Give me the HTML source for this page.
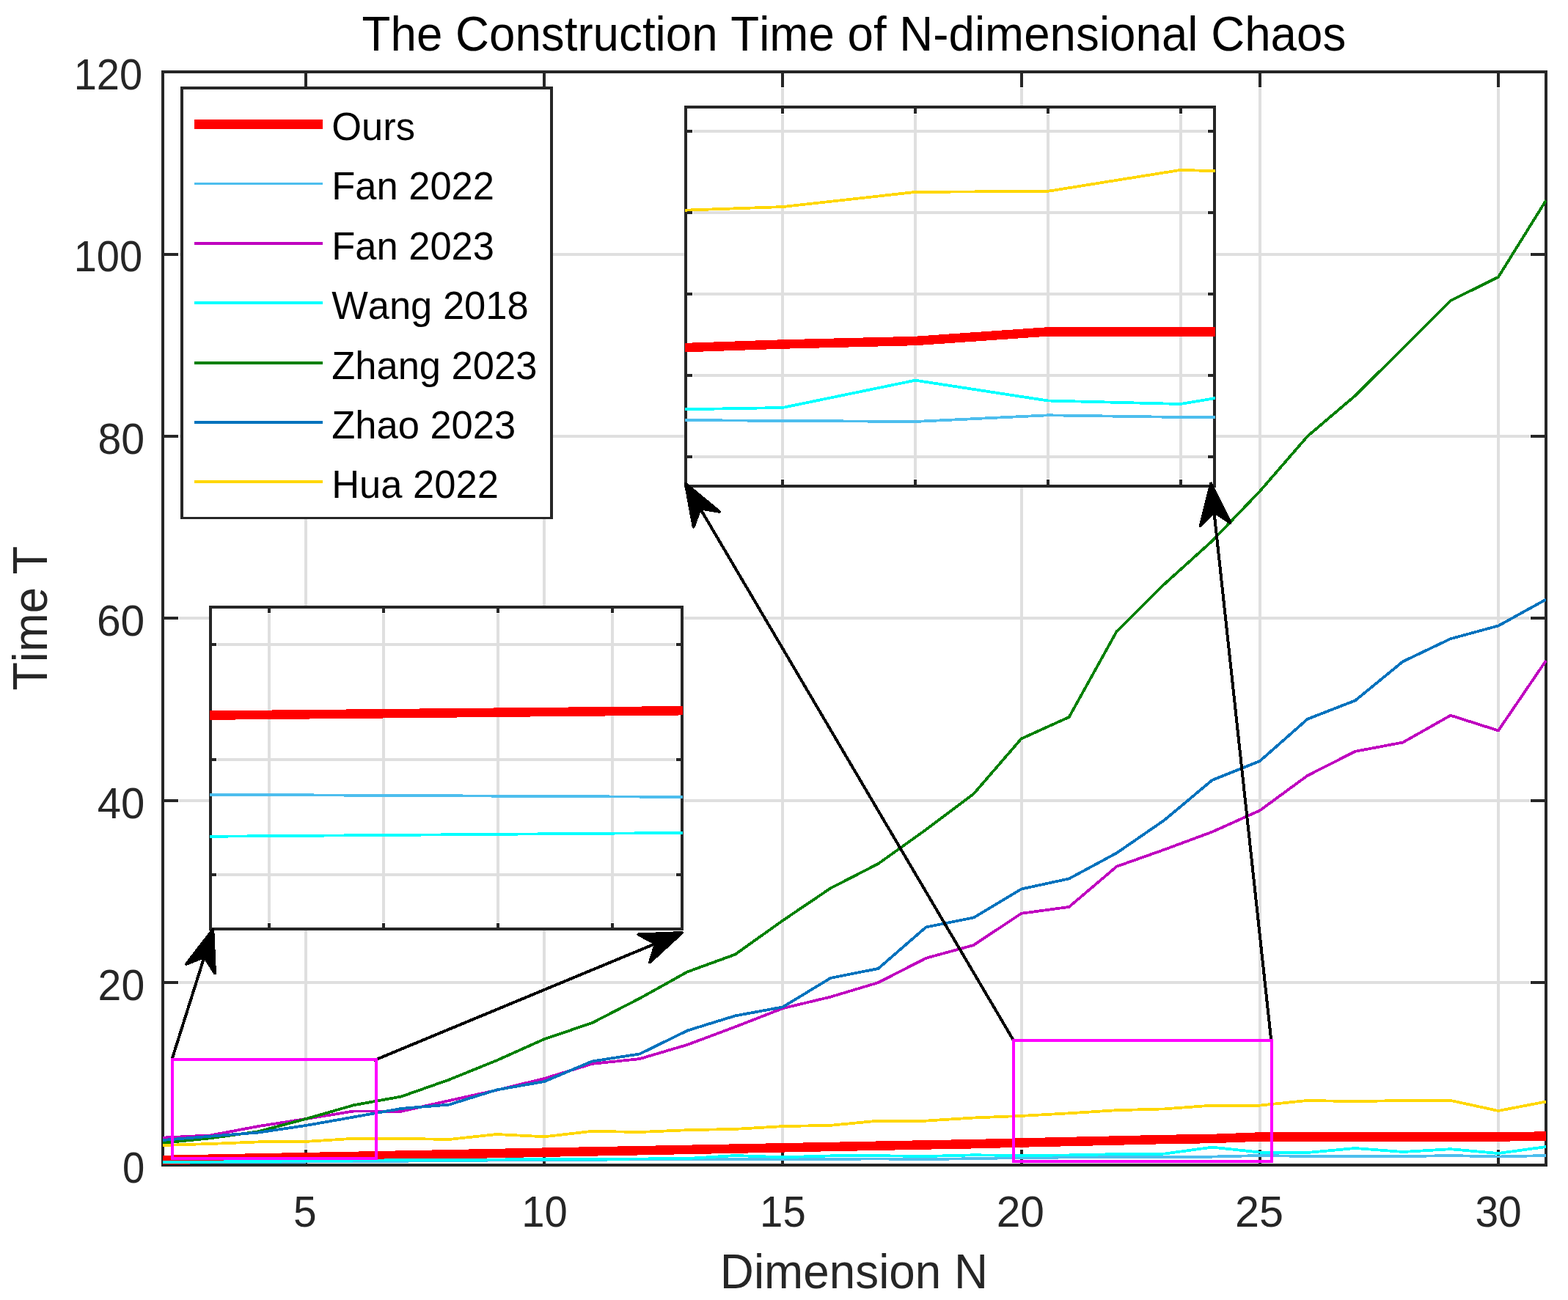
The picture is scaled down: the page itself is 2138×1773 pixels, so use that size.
<!DOCTYPE html>
<html lang="en"><head><meta charset="utf-8"><title>The Construction Time of N-dimensional Chaos</title>
<style>html,body{margin:0;padding:0;background:#fff;}body{width:2138px;height:1773px;overflow:hidden;}svg{display:block;}text{font-family:"Liberation Sans",Arial,Helvetica,sans-serif;font-kerning:none;white-space:pre;}</style>
</head><body>
<svg xmlns="http://www.w3.org/2000/svg" width="2138" height="1773" viewBox="0 0 2138 1773">
<rect x="0" y="0" width="2138" height="1773" fill="#ffffff"/>
<g id="main-axes">
<g id="main-grid" shape-rendering="crispEdges">
<line x1="417.0" y1="120.0" x2="417.0" y2="1567.0" stroke="#dfdfdf" stroke-width="4" />
<line x1="742.0" y1="120.0" x2="742.0" y2="1567.0" stroke="#dfdfdf" stroke-width="4" />
<line x1="1067.0" y1="120.0" x2="1067.0" y2="1567.0" stroke="#dfdfdf" stroke-width="4" />
<line x1="1393.0" y1="120.0" x2="1393.0" y2="1567.0" stroke="#dfdfdf" stroke-width="4" />
<line x1="1718.0" y1="120.0" x2="1718.0" y2="1567.0" stroke="#dfdfdf" stroke-width="4" />
<line x1="2043.0" y1="120.0" x2="2043.0" y2="1567.0" stroke="#dfdfdf" stroke-width="4" />
<line x1="244.0" y1="347.0" x2="2086.0" y2="347.0" stroke="#dfdfdf" stroke-width="4" />
<line x1="244.0" y1="595.0" x2="2086.0" y2="595.0" stroke="#dfdfdf" stroke-width="4" />
<line x1="244.0" y1="843.0" x2="2086.0" y2="843.0" stroke="#dfdfdf" stroke-width="4" />
<line x1="244.0" y1="1092.0" x2="2086.0" y2="1092.0" stroke="#dfdfdf" stroke-width="4" />
<line x1="244.0" y1="1340.0" x2="2086.0" y2="1340.0" stroke="#dfdfdf" stroke-width="4" />
</g>
<g id="main-box" shape-rendering="crispEdges">
<line x1="417.0" y1="1589.0" x2="417.0" y2="1568.0" stroke="#262626" stroke-width="4" />
<line x1="417.0" y1="98.0" x2="417.0" y2="119.0" stroke="#262626" stroke-width="4" />
<line x1="742.0" y1="1589.0" x2="742.0" y2="1568.0" stroke="#262626" stroke-width="4" />
<line x1="742.0" y1="98.0" x2="742.0" y2="119.0" stroke="#262626" stroke-width="4" />
<line x1="1067.0" y1="1589.0" x2="1067.0" y2="1568.0" stroke="#262626" stroke-width="4" />
<line x1="1067.0" y1="98.0" x2="1067.0" y2="119.0" stroke="#262626" stroke-width="4" />
<line x1="1393.0" y1="1589.0" x2="1393.0" y2="1568.0" stroke="#262626" stroke-width="4" />
<line x1="1393.0" y1="98.0" x2="1393.0" y2="119.0" stroke="#262626" stroke-width="4" />
<line x1="1718.0" y1="1589.0" x2="1718.0" y2="1568.0" stroke="#262626" stroke-width="4" />
<line x1="1718.0" y1="98.0" x2="1718.0" y2="119.0" stroke="#262626" stroke-width="4" />
<line x1="2043.0" y1="1589.0" x2="2043.0" y2="1568.0" stroke="#262626" stroke-width="4" />
<line x1="2043.0" y1="98.0" x2="2043.0" y2="119.0" stroke="#262626" stroke-width="4" />
<line x1="222.0" y1="347.0" x2="243.0" y2="347.0" stroke="#262626" stroke-width="4" />
<line x1="2108.0" y1="347.0" x2="2087.0" y2="347.0" stroke="#262626" stroke-width="4" />
<line x1="222.0" y1="595.0" x2="243.0" y2="595.0" stroke="#262626" stroke-width="4" />
<line x1="2108.0" y1="595.0" x2="2087.0" y2="595.0" stroke="#262626" stroke-width="4" />
<line x1="222.0" y1="843.0" x2="243.0" y2="843.0" stroke="#262626" stroke-width="4" />
<line x1="2108.0" y1="843.0" x2="2087.0" y2="843.0" stroke="#262626" stroke-width="4" />
<line x1="222.0" y1="1092.0" x2="243.0" y2="1092.0" stroke="#262626" stroke-width="4" />
<line x1="2108.0" y1="1092.0" x2="2087.0" y2="1092.0" stroke="#262626" stroke-width="4" />
<line x1="222.0" y1="1340.0" x2="243.0" y2="1340.0" stroke="#262626" stroke-width="4" />
<line x1="2108.0" y1="1340.0" x2="2087.0" y2="1340.0" stroke="#262626" stroke-width="4" />
<rect x="222.0" y="98.0" width="1886.0" height="1491.0" fill="none" stroke="#262626" stroke-width="4"/>
</g>
<g id="main-curves" shape-rendering="crispEdges">
<polyline points="222.0,1582.0 287.0,1580.7 352.1,1579.4 417.1,1578.1 482.1,1576.9 547.2,1575.6 612.2,1574.3 677.2,1573.0 742.3,1571.7 807.3,1570.4 872.3,1569.2 937.4,1567.9 1002.4,1566.6 1067.4,1565.3 1132.5,1564.0 1197.5,1562.7 1262.6,1561.4 1327.6,1560.2 1392.6,1558.5 1457.7,1557.0 1522.7,1555.5 1587.7,1554.0 1652.8,1553.0 1717.8,1550.5 1782.8,1550.5 1847.9,1550.5 1912.9,1550.5 1977.9,1550.5 2043.0,1550.5 2108.0,1549.5" fill="none" stroke="#ff0000" stroke-width="12.5" stroke-linejoin="round" />
<polyline points="222.0,1585.3 287.0,1585.2 352.1,1585.0 417.1,1584.6 482.1,1584.3 547.2,1583.7 612.2,1583.1 677.2,1582.5 742.3,1582.0 807.3,1581.7 872.3,1581.4 937.4,1581.2 1002.4,1581.0 1067.4,1581.0 1132.5,1580.8 1197.5,1580.5 1262.6,1581.0 1327.6,1580.2 1392.6,1579.0 1457.7,1578.5 1522.7,1578.2 1587.7,1577.8 1652.8,1577.6 1717.8,1576.0 1782.8,1577.0 1847.9,1577.2 1912.9,1577.2 1977.9,1576.0 2043.0,1577.5 2108.0,1576.0" fill="none" stroke="#4dbeee" stroke-width="3.8" stroke-linejoin="round" />
<polyline points="222.0,1551.6 287.0,1548.4 352.1,1536.1 417.1,1526.0 482.1,1515.5 547.2,1515.7 612.2,1501.1 677.2,1486.8 742.3,1470.9 807.3,1450.9 872.3,1444.1 937.4,1424.8 1002.4,1400.5 1067.4,1375.2 1132.5,1359.6 1197.5,1340.1 1262.6,1306.8 1327.6,1289.0 1392.6,1245.8 1457.7,1236.9 1522.7,1181.7 1587.7,1158.7 1652.8,1134.6 1717.8,1105.4 1782.8,1057.8 1847.9,1024.8 1912.9,1012.5 1977.9,975.7 2043.0,996.4 2108.0,901.0" fill="none" stroke="#bf00bf" stroke-width="3.8" stroke-linejoin="round" />
<polyline points="222.0,1585.0 287.0,1584.6 352.1,1583.9 417.1,1583.3 482.1,1582.6 547.2,1582.3 612.2,1582.0 677.2,1581.5 742.3,1581.0 807.3,1581.0 872.3,1580.5 937.4,1580.0 1002.4,1576.0 1067.4,1578.2 1132.5,1576.4 1197.5,1576.2 1262.6,1577.0 1327.6,1575.3 1392.6,1576.0 1457.7,1575.4 1522.7,1574.1 1587.7,1573.6 1652.8,1564.6 1717.8,1571.6 1782.8,1572.0 1847.9,1566.0 1912.9,1571.0 1977.9,1567.2 2043.0,1573.0 2108.0,1564.0" fill="none" stroke="#00ffff" stroke-width="3.8" stroke-linejoin="round" />
<polyline points="222.0,1558.8 287.0,1552.3 352.1,1543.3 417.1,1526.0 482.1,1507.3 547.2,1495.5 612.2,1472.6 677.2,1446.3 742.3,1417.1 807.3,1395.1 872.3,1361.6 937.4,1325.4 1002.4,1301.7 1067.4,1255.4 1132.5,1211.4 1197.5,1178.0 1262.6,1131.5 1327.6,1082.7 1392.6,1007.5 1457.7,978.0 1522.7,861.0 1587.7,796.6 1652.8,737.8 1717.8,670.0 1782.8,595.0 1847.9,539.6 1912.9,475.0 1977.9,410.0 2043.0,377.9 2108.0,273.3" fill="none" stroke="#008000" stroke-width="3.8" stroke-linejoin="round" />
<polyline points="222.0,1555.0 287.0,1549.7 352.1,1544.6 417.1,1535.0 482.1,1523.5 547.2,1511.9 612.2,1506.6 677.2,1486.4 742.3,1475.0 807.3,1447.5 872.3,1437.4 937.4,1405.5 1002.4,1385.4 1067.4,1373.4 1132.5,1333.9 1197.5,1321.0 1262.6,1264.5 1327.6,1251.5 1392.6,1212.5 1457.7,1198.4 1522.7,1163.3 1587.7,1118.5 1652.8,1064.0 1717.8,1038.0 1782.8,980.7 1847.9,955.4 1912.9,902.2 1977.9,871.2 2043.0,853.5 2108.0,817.6" fill="none" stroke="#0072bd" stroke-width="3.8" stroke-linejoin="round" />
<polyline points="222.0,1562.0 287.0,1560.0 352.1,1557.4 417.1,1556.9 482.1,1552.8 547.2,1552.8 612.2,1554.0 677.2,1547.0 742.3,1550.3 807.3,1542.8 872.3,1544.0 937.4,1541.2 1002.4,1539.9 1067.4,1536.1 1132.5,1534.8 1197.5,1528.6 1262.6,1528.6 1327.6,1524.5 1392.6,1521.9 1457.7,1518.3 1522.7,1514.2 1587.7,1512.4 1652.8,1507.6 1717.8,1507.6 1782.8,1500.9 1847.9,1502.2 1912.9,1500.9 1977.9,1500.9 2043.0,1515.0 2108.0,1502.5" fill="none" stroke="#ffd700" stroke-width="3.8" stroke-linejoin="round" />
</g>
</g>
<g id="tick-labels">
<text transform="translate(400.12,1673.00) scale(0.9763,1.0300)" font-size="58.33px" fill="#262626">5</text>
<text transform="translate(711.32,1673.00) scale(0.9629,1.0300)" font-size="58.33px" fill="#262626">10</text>
<text transform="translate(1036.11,1673.00) scale(0.9657,1.0300)" font-size="58.33px" fill="#262626">15</text>
<text transform="translate(1358.65,1673.00) scale(1.0056,1.0300)" font-size="58.33px" fill="#262626">20</text>
<text transform="translate(1684.01,1673.00) scale(1.0185,1.0300)" font-size="58.33px" fill="#262626">25</text>
<text transform="translate(2011.43,1673.00) scale(0.9771,1.0300)" font-size="58.33px" fill="#262626">30</text>
<text transform="translate(166.88,1613.00) scale(0.9325,1.0300)" font-size="58.33px" fill="#262626">0</text>
<text transform="translate(133.62,1364.00) scale(0.9804,1.0300)" font-size="58.33px" fill="#262626">20</text>
<text transform="translate(132.67,1116.00) scale(0.9957,1.0300)" font-size="58.33px" fill="#262626">40</text>
<text transform="translate(131.92,867.00) scale(1.0077,1.0300)" font-size="58.33px" fill="#262626">60</text>
<text transform="translate(133.51,619.00) scale(0.9822,1.0300)" font-size="58.33px" fill="#262626">80</text>
<text transform="translate(100.63,370.00) scale(0.9603,1.0300)" font-size="58.33px" fill="#262626">100</text>
<text transform="translate(100.63,122.00) scale(0.9603,1.0300)" font-size="58.33px" fill="#262626">120</text>
</g>
<text id="title" transform="translate(493.57,69.00) scale(0.9928,1.0350)" font-size="64.17px" fill="#000000">The Construction Time of N-dimensional Chaos</text>
<text id="xlabel" transform="translate(981.86,1757.00) scale(0.9946,1.0350)" font-size="64.17px" fill="#262626">Dimension N</text>
<text id="ylabel" transform="translate(64.2,941.82) rotate(-90) scale(0.9872,1.035)" font-size="64.17px" fill="#262626">Time T</text>
<g id="inset-1">
<rect x="287.0" y="828.0" width="643.0" height="439.0" fill="#ffffff"/>
<g shape-rendering="crispEdges">
<line x1="367.0" y1="837.0" x2="367.0" y2="1258.0" stroke="#dfdfdf" stroke-width="4" />
<line x1="523.0" y1="837.0" x2="523.0" y2="1258.0" stroke="#dfdfdf" stroke-width="4" />
<line x1="679.0" y1="837.0" x2="679.0" y2="1258.0" stroke="#dfdfdf" stroke-width="4" />
<line x1="835.0" y1="837.0" x2="835.0" y2="1258.0" stroke="#dfdfdf" stroke-width="4" />
<line x1="296.0" y1="879.0" x2="921.0" y2="879.0" stroke="#dfdfdf" stroke-width="4" />
<line x1="296.0" y1="1036.0" x2="921.0" y2="1036.0" stroke="#dfdfdf" stroke-width="4" />
<line x1="296.0" y1="1193.0" x2="921.0" y2="1193.0" stroke="#dfdfdf" stroke-width="4" />
</g>
<g shape-rendering="crispEdges">
<line x1="367.0" y1="1267.0" x2="367.0" y2="1259.0" stroke="#262626" stroke-width="4" />
<line x1="367.0" y1="828.0" x2="367.0" y2="836.0" stroke="#262626" stroke-width="4" />
<line x1="523.0" y1="1267.0" x2="523.0" y2="1259.0" stroke="#262626" stroke-width="4" />
<line x1="523.0" y1="828.0" x2="523.0" y2="836.0" stroke="#262626" stroke-width="4" />
<line x1="679.0" y1="1267.0" x2="679.0" y2="1259.0" stroke="#262626" stroke-width="4" />
<line x1="679.0" y1="828.0" x2="679.0" y2="836.0" stroke="#262626" stroke-width="4" />
<line x1="835.0" y1="1267.0" x2="835.0" y2="1259.0" stroke="#262626" stroke-width="4" />
<line x1="835.0" y1="828.0" x2="835.0" y2="836.0" stroke="#262626" stroke-width="4" />
<line x1="287.0" y1="879.0" x2="295.0" y2="879.0" stroke="#262626" stroke-width="4" />
<line x1="930.0" y1="879.0" x2="922.0" y2="879.0" stroke="#262626" stroke-width="4" />
<line x1="287.0" y1="1036.0" x2="295.0" y2="1036.0" stroke="#262626" stroke-width="4" />
<line x1="930.0" y1="1036.0" x2="922.0" y2="1036.0" stroke="#262626" stroke-width="4" />
<line x1="287.0" y1="1193.0" x2="295.0" y2="1193.0" stroke="#262626" stroke-width="4" />
<line x1="930.0" y1="1193.0" x2="922.0" y2="1193.0" stroke="#262626" stroke-width="4" />
<rect x="287.0" y="828.0" width="643.0" height="439.0" fill="none" stroke="#262626" stroke-width="4"/>
</g>
<polyline points="286.0,975.6 931.0,969.2" fill="none" stroke="#ff0000" stroke-width="12.5" stroke-linejoin="round" stroke-linecap="butt" shape-rendering="crispEdges"/>
<polyline points="286.0,1083.7 931.0,1086.9" fill="none" stroke="#4dbeee" stroke-width="3.8" stroke-linejoin="round" stroke-linecap="butt" shape-rendering="crispEdges"/>
<polyline points="286.0,1140.8 931.0,1135.9" fill="none" stroke="#00ffff" stroke-width="3.8" stroke-linejoin="round" stroke-linecap="butt" shape-rendering="crispEdges"/>
</g>
<g id="inset-2">
<rect x="935.0" y="146.0" width="721.0" height="517.0" fill="#ffffff"/>
<g shape-rendering="crispEdges">
<line x1="1067.0" y1="156.0" x2="1067.0" y2="653.0" stroke="#dfdfdf" stroke-width="4" />
<line x1="1248.0" y1="156.0" x2="1248.0" y2="653.0" stroke="#dfdfdf" stroke-width="4" />
<line x1="1429.0" y1="156.0" x2="1429.0" y2="653.0" stroke="#dfdfdf" stroke-width="4" />
<line x1="1610.0" y1="156.0" x2="1610.0" y2="653.0" stroke="#dfdfdf" stroke-width="4" />
<line x1="945.0" y1="179.0" x2="1646.0" y2="179.0" stroke="#dfdfdf" stroke-width="4" />
<line x1="945.0" y1="290.0" x2="1646.0" y2="290.0" stroke="#dfdfdf" stroke-width="4" />
<line x1="945.0" y1="401.0" x2="1646.0" y2="401.0" stroke="#dfdfdf" stroke-width="4" />
<line x1="945.0" y1="512.0" x2="1646.0" y2="512.0" stroke="#dfdfdf" stroke-width="4" />
<line x1="945.0" y1="623.0" x2="1646.0" y2="623.0" stroke="#dfdfdf" stroke-width="4" />
</g>
<g shape-rendering="crispEdges">
<line x1="1067.0" y1="663.0" x2="1067.0" y2="654.0" stroke="#262626" stroke-width="4" />
<line x1="1067.0" y1="146.0" x2="1067.0" y2="155.0" stroke="#262626" stroke-width="4" />
<line x1="1248.0" y1="663.0" x2="1248.0" y2="654.0" stroke="#262626" stroke-width="4" />
<line x1="1248.0" y1="146.0" x2="1248.0" y2="155.0" stroke="#262626" stroke-width="4" />
<line x1="1429.0" y1="663.0" x2="1429.0" y2="654.0" stroke="#262626" stroke-width="4" />
<line x1="1429.0" y1="146.0" x2="1429.0" y2="155.0" stroke="#262626" stroke-width="4" />
<line x1="1610.0" y1="663.0" x2="1610.0" y2="654.0" stroke="#262626" stroke-width="4" />
<line x1="1610.0" y1="146.0" x2="1610.0" y2="155.0" stroke="#262626" stroke-width="4" />
<line x1="935.0" y1="179.0" x2="944.0" y2="179.0" stroke="#262626" stroke-width="4" />
<line x1="1656.0" y1="179.0" x2="1647.0" y2="179.0" stroke="#262626" stroke-width="4" />
<line x1="935.0" y1="290.0" x2="944.0" y2="290.0" stroke="#262626" stroke-width="4" />
<line x1="1656.0" y1="290.0" x2="1647.0" y2="290.0" stroke="#262626" stroke-width="4" />
<line x1="935.0" y1="401.0" x2="944.0" y2="401.0" stroke="#262626" stroke-width="4" />
<line x1="1656.0" y1="401.0" x2="1647.0" y2="401.0" stroke="#262626" stroke-width="4" />
<line x1="935.0" y1="512.0" x2="944.0" y2="512.0" stroke="#262626" stroke-width="4" />
<line x1="1656.0" y1="512.0" x2="1647.0" y2="512.0" stroke="#262626" stroke-width="4" />
<line x1="935.0" y1="623.0" x2="944.0" y2="623.0" stroke="#262626" stroke-width="4" />
<line x1="1656.0" y1="623.0" x2="1647.0" y2="623.0" stroke="#262626" stroke-width="4" />
<rect x="935.0" y="146.0" width="721.0" height="517.0" fill="none" stroke="#262626" stroke-width="4"/>
</g>
<polyline points="934.0,474.1 1067.0,469.5 1248.0,465.0 1429.0,452.4 1610.0,452.4 1657.0,452.4" fill="none" stroke="#ff0000" stroke-width="12.5" stroke-linejoin="round" stroke-linecap="butt" shape-rendering="crispEdges"/>
<polyline points="934.0,573.1 1067.0,573.9 1248.0,575.0 1429.0,566.3 1610.0,569.0 1657.0,569.3" fill="none" stroke="#4dbeee" stroke-width="3.8" stroke-linejoin="round" stroke-linecap="butt" shape-rendering="crispEdges"/>
<polyline points="934.0,558.3 1067.0,556.0 1248.0,518.7 1429.0,546.5 1610.0,551.0 1657.0,543.0" fill="none" stroke="#00ffff" stroke-width="3.8" stroke-linejoin="round" stroke-linecap="butt" shape-rendering="crispEdges"/>
<polyline points="934.0,286.7 1067.0,282.1 1248.0,261.9 1429.0,260.8 1610.0,231.8 1657.0,233.3" fill="none" stroke="#ffd700" stroke-width="3.8" stroke-linejoin="round" stroke-linecap="butt" shape-rendering="crispEdges"/>
</g>
<g id="legend">
<rect x="248.0" y="120.0" width="504.0" height="586.5" fill="#ffffff"/>
<g shape-rendering="crispEdges">
<line x1="246.0" y1="120.0" x2="754.0" y2="120.0" stroke="#262626" stroke-width="4" />
<line x1="246.0" y1="706.5" x2="754.0" y2="706.5" stroke="#262626" stroke-width="3" />
<line x1="248.0" y1="120.0" x2="248.0" y2="708.0" stroke="#262626" stroke-width="4" />
<line x1="752.0" y1="120.0" x2="752.0" y2="708.0" stroke="#262626" stroke-width="4" />
</g>
<line x1="265.0" y1="169.5" x2="440.0" y2="169.5" stroke="#ff0000" stroke-width="13" shape-rendering="crispEdges"/>
<text transform="translate(452.2,191.0) scale(1,1.03)" font-size="52.5px" fill="#000000">Ours</text>
<line x1="265.0" y1="250.5" x2="440.0" y2="250.5" stroke="#4dbeee" stroke-width="3" shape-rendering="crispEdges"/>
<text transform="translate(452.2,272.0) scale(1,1.03)" font-size="52.5px" fill="#000000">Fan 2022</text>
<line x1="265.0" y1="332.0" x2="440.0" y2="332.0" stroke="#bf00bf" stroke-width="4" shape-rendering="crispEdges"/>
<text transform="translate(452.2,354.0) scale(1,1.03)" font-size="52.5px" fill="#000000">Fan 2023</text>
<line x1="265.0" y1="413.0" x2="440.0" y2="413.0" stroke="#00ffff" stroke-width="4" shape-rendering="crispEdges"/>
<text transform="translate(452.2,435.0) scale(1,1.03)" font-size="52.5px" fill="#000000">Wang 2018</text>
<line x1="265.0" y1="495.0" x2="440.0" y2="495.0" stroke="#008000" stroke-width="4" shape-rendering="crispEdges"/>
<text transform="translate(452.2,517.0) scale(1,1.03)" font-size="52.5px" fill="#000000">Zhang 2023</text>
<line x1="265.0" y1="576.0" x2="440.0" y2="576.0" stroke="#0072bd" stroke-width="4" shape-rendering="crispEdges"/>
<text transform="translate(452.2,598.0) scale(1,1.03)" font-size="52.5px" fill="#000000">Zhao 2023</text>
<line x1="265.0" y1="657.0" x2="440.0" y2="657.0" stroke="#ffd700" stroke-width="4" shape-rendering="crispEdges"/>
<text transform="translate(452.2,679.0) scale(1,1.03)" font-size="52.5px" fill="#000000">Hua 2022</text>
</g>
<g id="annotations" shape-rendering="crispEdges">
<line x1="235.0" y1="1443.0" x2="278.6" y2="1305.0" stroke="#000000" stroke-width="4.0" />
<polygon points="290.3,1267.8 253.9,1315.0 278.6,1305.0 293.0,1327.4" fill="#000000" stroke="#000000" stroke-width="4" stroke-linejoin="round"/>
<line x1="509.3" y1="1446.5" x2="893.9" y2="1286.9" stroke="#000000" stroke-width="4.0" />
<polygon points="930.0,1272.0 870.4,1274.5 893.9,1286.9 886.1,1312.4" fill="#000000" stroke="#000000" stroke-width="4" stroke-linejoin="round"/>
<line x1="1382.0" y1="1419.0" x2="954.7" y2="693.5" stroke="#000000" stroke-width="4.0" />
<polygon points="934.9,659.9 945.7,718.6 954.7,693.5 981.0,697.8" fill="#000000" stroke="#000000" stroke-width="4" stroke-linejoin="round"/>
<line x1="1733.3" y1="1419.0" x2="1655.4" y2="698.2" stroke="#000000" stroke-width="4.0" />
<polygon points="1651.2,659.4 1636.8,717.3 1655.4,698.2 1677.6,712.9" fill="#000000" stroke="#000000" stroke-width="4" stroke-linejoin="round"/>
<rect x="235.0" y="1445.0" width="278.0" height="134.5" fill="none" stroke="#ff00ff" stroke-width="4"/>
<rect x="1382.0" y="1419.0" width="352.0" height="165.0" fill="none" stroke="#ff00ff" stroke-width="4"/>
</g>
</svg>
</body></html>
